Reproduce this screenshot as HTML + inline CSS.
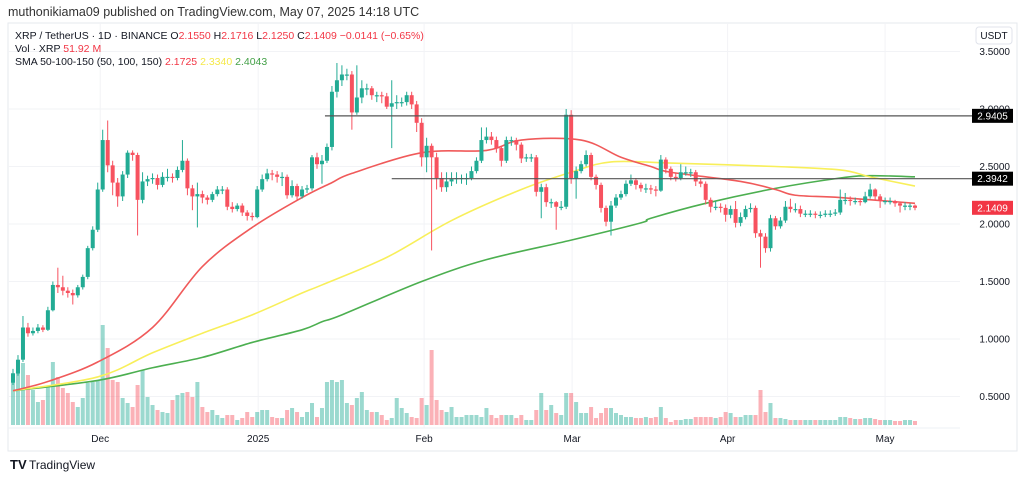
<!DOCTYPE html>
<html><head><meta charset="utf-8"><style>
body{margin:0;background:#fff;width:1024px;height:478px;overflow:hidden;font-family:"Liberation Sans",sans-serif}
svg{position:absolute;left:0;top:0}
</style></head><body>
<svg id="c" width="1024" height="478" xmlns="http://www.w3.org/2000/svg">
<text x="8" y="16" font-size="12.5" fill="#333">muthonikiama09 published on TradingView.com, May 07, 2025 14:18 UTC</text>
<rect x="8" y="23" width="1009" height="428" fill="none" stroke="#e6e8ee"/>
<line x1="8" y1="428" x2="960" y2="428" stroke="#eef0f4"/>
<g id="grid"></g><g id="vol"></g><g id="sma"></g><g id="cand"></g><g id="lev"></g><g id="axis"></g>
<g font-size="10.5">
<text x="15" y="39" fill="#131722">XRP / TetherUS · 1D · BINANCE <tspan fill="#131722">O</tspan><tspan fill="#f23645">2.1550</tspan><tspan fill="#131722"> H</tspan><tspan fill="#f23645">2.1716</tspan><tspan fill="#131722"> L</tspan><tspan fill="#f23645">2.1250</tspan><tspan fill="#131722"> C</tspan><tspan fill="#f23645">2.1409 −0.0141 (−0.65%)</tspan></text>
<text x="15" y="52" fill="#131722">Vol · XRP <tspan fill="#f23645">51.92 M</tspan></text>
<text x="15" y="65" fill="#131722">SMA 50-100-150 (50, 100, 150) <tspan fill="#f23645">2.1725</tspan> <tspan fill="#f5e94a">2.3340</tspan> <tspan fill="#43a047">2.4043</tspan></text>
</g>
<rect x="976" y="27" width="36" height="17" rx="3" fill="#fff" stroke="#e0e3eb"/>
<text x="994" y="39" font-size="10" text-anchor="middle" fill="#131722">USDT</text>
<g>
<text x="10" y="469" font-size="13" font-weight="bold" fill="#131722">TV</text>
<text x="29" y="469" font-size="12" fill="#131722">TradingView</text>
</g>
</svg>
<script>
const closes=[0.70,0.82,1.10,1.05,1.07,1.10,1.08,1.25,1.47,1.45,
1.42,1.40,1.38,1.45,1.54,1.79,1.95,2.30,2.73,2.51,
2.36,2.24,2.43,2.62,2.60,2.21,2.37,2.39,2.40,2.34,
2.41,2.41,2.40,2.47,2.55,2.31,2.24,2.26,2.23,2.21,
2.26,2.30,2.30,2.15,2.13,2.16,2.10,2.07,2.06,2.30,
2.39,2.44,2.43,2.41,2.41,2.25,2.33,2.24,2.30,2.31,
2.58,2.52,2.55,2.67,3.15,3.25,3.30,3.30,2.97,3.10,
3.18,3.18,3.12,3.12,3.11,3.02,3.05,3.06,3.06,3.12,
3.04,2.88,2.58,2.68,2.58,2.40,2.32,2.37,2.39,2.40,
2.40,2.40,2.46,2.55,2.73,2.76,2.73,2.66,2.55,2.73,
2.73,2.69,2.57,2.58,2.58,2.28,2.32,2.19,2.19,2.15,
2.15,2.95,2.40,2.46,2.52,2.60,2.41,2.34,2.14,2.02,
2.16,2.23,2.26,2.35,2.38,2.34,2.31,2.31,2.30,2.29,
2.56,2.48,2.41,2.40,2.45,2.45,2.45,2.37,2.35,2.21,
2.15,2.15,2.14,2.08,2.13,2.01,2.06,2.13,2.14,1.92,
1.89,1.79,2.05,1.98,2.03,2.15,2.13,2.13,2.09,2.09,
2.09,2.08,2.08,2.09,2.09,2.10,2.21,2.21,2.20,2.20,
2.19,2.24,2.30,2.24,2.20,2.20,2.20,2.18,2.16,2.16,
2.16,2.1409];
const highs=[.74,.86,1.20,1.14,1.10,1.13,1.12,1.28,1.50,1.62,
1.55,1.45,1.43,1.47,1.56,1.81,1.98,2.36,2.82,2.90,
2.55,2.40,2.46,2.64,2.64,2.62,2.45,2.42,2.44,2.43,
2.45,2.48,2.44,2.50,2.73,2.57,2.34,2.36,2.29,2.25,
2.28,2.33,2.33,2.32,2.19,2.18,2.18,2.12,2.10,2.33,
2.43,2.48,2.47,2.46,2.45,2.43,2.38,2.35,2.33,2.34,
2.60,2.62,2.60,2.70,3.20,3.40,3.38,3.35,3.33,3.38,
3.25,3.22,3.20,3.15,3.15,3.14,3.25,3.12,3.10,3.15,
3.15,3.07,2.92,2.75,2.70,2.62,2.45,2.45,2.45,2.45,
2.43,2.44,2.50,2.58,2.84,2.84,2.80,2.76,2.68,2.76,
2.76,2.75,2.71,2.61,2.61,2.60,2.35,2.35,2.22,2.20,
2.20,3.00,2.99,2.50,2.55,2.64,2.62,2.43,2.36,2.16,
2.20,2.26,2.29,2.38,2.43,2.40,2.36,2.35,2.34,2.33,
2.60,2.58,2.50,2.44,2.52,2.50,2.48,2.47,2.40,2.37,
2.23,2.20,2.18,2.17,2.16,2.20,2.10,2.16,2.18,2.16,
1.95,1.92,2.08,2.07,2.06,2.20,2.22,2.18,2.16,2.12,
2.12,2.11,2.11,2.12,2.12,2.13,2.30,2.27,2.24,2.23,
2.22,2.28,2.35,2.31,2.26,2.23,2.23,2.21,2.19,2.19,
2.18,2.17];
const lows=[.60,.68,.80,1.02,1.03,1.05,1.06,1.07,1.24,1.40,
1.38,1.36,1.30,1.36,1.43,1.52,1.77,1.93,2.28,2.45,
2.25,2.15,2.20,2.40,2.55,1.90,2.18,2.33,2.35,2.30,
2.32,2.37,2.36,2.38,2.45,2.25,2.12,1.97,2.18,2.17,
2.19,2.24,2.26,2.12,2.10,2.11,2.07,2.03,2.03,2.05,
2.28,2.37,2.38,2.36,2.33,2.22,2.23,2.20,2.22,2.27,
2.29,2.48,2.35,2.53,2.64,3.10,3.20,3.25,2.82,2.95,
3.05,3.12,3.08,3.06,3.05,3.00,2.66,3.00,3.02,3.03,
3.00,2.80,2.50,2.45,1.77,2.30,2.28,2.28,2.33,2.35,
2.35,2.34,2.38,2.44,2.53,2.70,2.69,2.62,2.50,2.53,
2.68,2.64,2.53,2.54,2.54,2.24,2.05,2.15,2.14,1.95,
2.12,2.13,2.35,2.22,2.44,2.50,2.38,2.30,2.10,1.98,
1.90,2.14,2.21,2.24,2.33,2.30,2.28,2.27,2.26,2.24,
2.28,2.44,2.38,2.37,2.38,2.42,2.41,2.33,2.32,2.17,
2.10,2.12,2.10,2.02,2.05,1.97,1.98,2.04,2.10,1.88,
1.62,1.75,1.76,1.95,1.96,2.01,2.10,2.10,2.06,2.06,
2.06,2.05,2.05,2.06,2.06,2.07,2.08,2.17,2.16,2.17,
2.16,2.18,2.22,2.21,2.14,2.17,2.17,2.15,2.10,2.12,
2.12,2.12];
const firstOpen=0.62;
const volumes=[520,570,620,500,350,230,250,380,630,480,
370,320,230,180,270,420,430,450,1000,770,
450,430,270,220,180,400,550,280,200,150,
130,120,250,300,320,330,280,430,180,130,
150,100,70,100,100,50,70,130,80,130,
150,150,80,70,70,150,170,130,80,130,
220,80,170,430,450,430,450,220,200,270,
330,150,130,130,100,50,70,270,170,120,
80,70,270,200,750,250,150,130,180,80,
80,100,100,100,80,170,100,70,100,100,
100,70,100,50,50,150,320,150,200,120,
100,320,320,230,120,120,180,70,120,170,
170,120,100,80,80,70,70,80,70,80,
180,70,30,50,50,60,60,80,80,80,
80,70,80,130,120,80,80,100,100,100,
350,130,220,70,70,60,50,50,50,50,
50,50,50,50,50,50,80,80,70,60,
60,70,70,60,50,50,50,40,40,50,
50,40];
const sma50Idx=[0,7,17,28,38,48,58,64,68,82,95,102,114,122,128,132,146,153,157,166,181];
const sma50Val=[0.55,0.63,0.80,1.10,1.63,1.97,2.23,2.36,2.44,2.62,2.64,2.73,2.73,2.58,2.50,2.45,2.37,2.30,2.25,2.23,2.18];
const sma100Idx=[0,17,28,38,48,58,62,75,88,102,112,120,132,153,166,172,181];
const sma100Val=[0.55,0.67,0.88,1.05,1.21,1.40,1.47,1.71,2.03,2.30,2.45,2.54,2.53,2.50,2.47,2.41,2.33];
const sma150Idx=[0,17,28,38,48,58,62,66,82,95,112,126,128,139,153,166,172,181];
const sma150Val=[0.55,0.64,0.75,0.84,0.97,1.08,1.15,1.21,1.50,1.69,1.86,2.01,2.05,2.18,2.31,2.40,2.42,2.41];
const priceTicks=[3.5,3.0,2.5,2.0,1.5,1.0,0.5];
const priceTickLabels=["3.5000","3.0000","2.5000","2.0000","1.5000","1.0000","0.5000"];
const dateTickIdx=[17.5,49.2,82.5,112.2,143.4,175];
const dateTickLabels=["Dec","2025","Feb","Mar","Apr","May"];
const levelVals=[2.9405,2.3942];
const levelStartIdx=[62.6,76];
const lastPrice=2.1409;

const NS="http://www.w3.org/2000/svg";
const X0=13,X1=915,N=closes.length;
function xs(i){return X0+i*(X1-X0)/(N-1);}
function ys(p){return 224-(p-2)*115;}
function yv(v){return 425-v*0.1;}
function mk(tag,attrs,parent){const e=document.createElementNS(NS,tag);for(const k in attrs)e.setAttribute(k,attrs[k]);parent.appendChild(e);return e;}
const G=id=>document.getElementById(id);
const UP="#22ab94",DN="#f7525f";

priceTicks.forEach((p,k)=>{const l=mk('line',{x1:8,x2:960,y1:ys(p),y2:ys(p),stroke:'#f2f3f6'},G('grid'));

});
dateTickIdx.forEach((d,k)=>{const l=mk('line',{x1:xs(d),x2:xs(d),y1:23,y2:428,stroke:'#f2f3f6'},G('grid'));

});

for(let i=0;i<N;i++){
  const o=i?closes[i-1]:firstOpen,c=closes[i],up=c>=o,x=xs(i);
  const vb=mk('rect',{x:x-2,width:4,y:yv(volumes[i]),height:425-yv(volumes[i]),fill:up?'rgba(34,171,148,0.45)':'rgba(247,82,95,0.45)'},G('vol'));
  
  
  const w=mk('line',{x1:x,x2:x,y1:ys(highs[i]),y2:ys(lows[i]),stroke:up?UP:DN,'stroke-width':1},G('cand'));
  
  
  const top=ys(Math.max(o,c)),bot=ys(Math.min(o,c));
  const b=mk('rect',{x:x-2,width:4,y:top,height:Math.max(1.2,bot-top),fill:up?UP:DN},G('cand'));
  
  
}

function smooth(ix,vals){const p=ix.map((d,k)=>[xs(d),ys(vals[k])]);let s='M'+p[0][0]+','+p[0][1];
for(let k=0;k<p.length-1;k++){const a=p[k-1]||p[k],b=p[k],c=p[k+1],d=p[k+2]||c;
s+=' C'+(b[0]+(c[0]-a[0])/6)+','+(b[1]+(c[1]-a[1])/6)+' '+(c[0]-(d[0]-b[0])/6)+','+(c[1]-(d[1]-b[1])/6)+' '+c[0]+','+c[1];}return s;}
const s150=mk('path',{d:smooth(sma150Idx,sma150Val),fill:'none',stroke:'#4caf50','stroke-width':1.6},G('sma'));


const s100=mk('path',{d:smooth(sma100Idx,sma100Val),fill:'none',stroke:'#f8ef5a','stroke-width':1.6},G('sma'));


const s50=mk('path',{d:smooth(sma50Idx,sma50Val),fill:'none',stroke:'#f05a5a','stroke-width':1.6},G('sma'));



priceTicks.forEach((p,k)=>{const t=mk('text',{x:1010,y:ys(p)+3.5,'font-size':10,'text-anchor':'end',fill:'#131722'},G('axis'));t.textContent=priceTickLabels[k];

});
dateTickIdx.forEach((d,k)=>{const t=mk('text',{x:xs(d),y:442,'font-size':10,'text-anchor':'middle',fill:'#131722'},G('axis'));t.textContent=dateTickLabels[k];

});

levelVals.forEach((v,k)=>{const y=ys(v);
const l=mk('line',{x1:xs(levelStartIdx[k]),x2:972,y1:y,y2:y,stroke:'#555','stroke-width':1.2},G('lev'));


const r=mk('rect',{x:972,y:y-7,width:41,height:14,fill:'#000'},G('lev'));


const t=mk('text',{x:992.5,y:y+3.5,'font-size':10,'text-anchor':'middle',fill:'#fff'},G('lev'));t.textContent=v.toFixed(4);

});
const ly=ys(lastPrice);
const lr=mk('rect',{x:972,y:ly-7,width:41,height:14,fill:'#f23645'},G('lev'));


const lt=mk('text',{x:992.5,y:ly+3.5,'font-size':10,'text-anchor':'middle',fill:'#fff'},G('lev'));lt.textContent=lastPrice.toFixed(4);


</script>
</body></html>
